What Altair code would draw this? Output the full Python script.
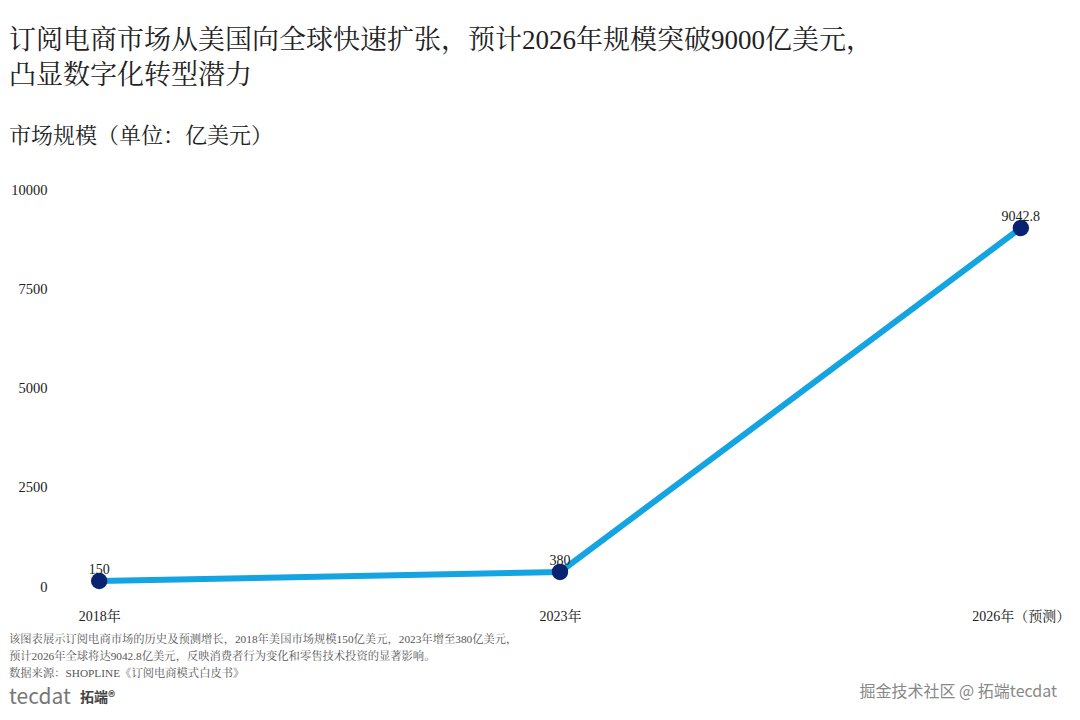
import altair as alt
import pandas as pd

years = ["2018年", "2023年", "2026年（预测）"]
values = [150, 380, 9042.8]
labels = ["150", "380", "9042.8"]

y_ticks = [0, 2500, 5000, 7500, 10000]

title_lines = ["订阅电商市场从美国向全球快速扩张，预计2026年规模突破9000亿美元，", "凸显数字化转型潜力"]
subtitle_text = "市场规模（单位：亿美元）"
footnote = ("该图表展示订阅电商市场的历史及预测增长，2018年美国市场规模150亿美元，2023年增至380亿美元，\n"
            "预计2026年全球将达9042.8亿美元，反映消费者行为变化和零售技术投资的显著影响。\n"
            "数据来源：SHOPLINE《订阅电商模式白皮书》")
logo_text = "tecdat"
logo_cn = "拓端®"
watermark = "掘金技术社区 @ 拓端tecdat"

SERIF = "Liberation Serif, Noto Serif CJK SC, Noto Sans CJK SC"
SANS = "Noto Sans CJK SC, Noto Sans"

df = pd.DataFrame({"year": years, "value": values, "label": labels})

x_enc = alt.X("year:N", sort=years, title=None,
              scale=alt.Scale(type="point", padding=0.085),
              axis=alt.Axis(labelAngle=0, domain=False, ticks=False, grid=False,
                            labelFont=SERIF, labelFontSize=14, labelColor="#222",
                            labelPadding=22, labelLimit=200))
y_enc = alt.Y("value:Q", title=None,
              scale=alt.Scale(domain=[0, 10000], nice=False),
              axis=alt.Axis(values=y_ticks, format="d", domain=False, ticks=False, grid=False,
                            labelFont=SERIF, labelFontSize=14.5, labelColor="#222",
                            labelPadding=13))

base = alt.Chart(df).encode(x=x_enc, y=y_enc)

line = base.mark_line(color="#14A4E2", strokeWidth=6)
pts = base.mark_point(filled=True, size=270, color="#0A2272", opacity=1)
txt = base.mark_text(dy=-11, font=SERIF, fontSize=14, color="#222").encode(text="label:N")

one = pd.DataFrame({"k": [0]})
foot = alt.Chart(one).mark_text(text=footnote, lineBreak="\n", lineHeight=17, align="left",
                                baseline="middle", font=SERIF, fontSize=11.3, color="#555"
                                ).encode(x=alt.value(-51), y=alt.value(450))
logo = alt.Chart(one).mark_text(text=logo_text, align="left", baseline="middle",
                                font=SANS, fontSize=21, color="#777"
                                ).encode(x=alt.value(-51), y=alt.value(508))
logo2 = alt.Chart(one).mark_text(text=logo_cn, align="left", baseline="middle",
                                 font=SANS, fontSize=14, fontWeight="bold", color="#444"
                                 ).encode(x=alt.value(20), y=alt.value(508))
wm = alt.Chart(one).mark_text(text=watermark, align="right", baseline="middle",
                              font=SANS, fontSize=16, color="#888"
                              ).encode(x=alt.value(997), y=alt.value(502))

chart = alt.layer(line, pts, txt, foot, logo, logo2, wm).properties(
    width=1000, height=397,
    background="white",
    autosize=alt.AutoSizeParams(type="none"),
    padding={"left": 52, "top": 182, "right": 12, "bottom": 125},
    title=alt.TitleParams(text=title_lines, subtitle=subtitle_text, anchor="start",
                          frame="group", dx=-51, font=SERIF, fontSize=27,
                          fontWeight="normal", color="#222", lineHeight=35,
                          subtitleFont=SERIF, subtitleFontSize=22, subtitleColor="#222",
                          subtitlePadding=36, offset=34)
).configure_view(strokeWidth=0, stroke="transparent")

chart.save("out.html", embed_options={"renderer": "svg", "actions": False})
